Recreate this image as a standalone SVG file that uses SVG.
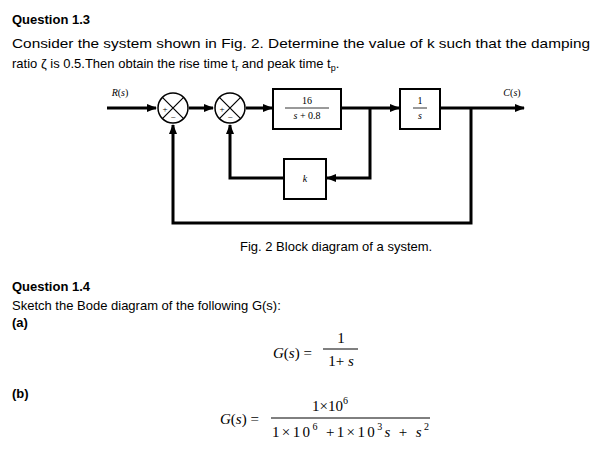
<svg xmlns="http://www.w3.org/2000/svg" width="601" height="455" viewBox="0 0 601 455">
<style>
.t{font-family:"Liberation Sans",Arial,sans-serif;font-size:13px;fill:#000}
.b{font-weight:bold}
.m{font-family:"Liberation Serif","Times New Roman",serif;fill:#000}
.i{font-style:italic}
.ln{stroke:#000;stroke-width:3;fill:none}
.bx{stroke:#000;stroke-width:2;fill:#fff}
</style>
<defs><marker id="a" markerWidth="10" markerHeight="8" refX="9" refY="4" orient="auto" markerUnits="userSpaceOnUse"><path d="M0,0L10,4L0,8z" fill="#000"/></marker></defs>
<rect width="601" height="455" fill="#fff"/>
<text class="t b" x="12" y="24">Question 1.3</text>
<text class="t" x="12" y="48" textLength="578" lengthAdjust="spacingAndGlyphs">Consider the system shown in Fig. 2. Determine the value of k such that the damping</text>
<text class="t" x="12" y="68">ratio ζ is 0.5.Then obtain the rise time t<tspan font-size="9" dy="3">r</tspan><tspan dy="-3"> and peak time t</tspan><tspan font-size="9" dy="3">p</tspan><tspan dy="-3">.</tspan></text>
<g id="connectors">
<line class="ln" x1="107" y1="108" x2="156" y2="108" marker-end="url(#a)"/>
<line class="ln" x1="189" y1="108" x2="213" y2="108" marker-end="url(#a)"/>
<line class="ln" x1="246" y1="108" x2="272" y2="108" marker-end="url(#a)"/>
<line class="ln" x1="341" y1="108" x2="399" y2="108" marker-end="url(#a)"/>
<line class="ln" x1="440" y1="108" x2="524" y2="108" marker-end="url(#a)"/>
<polyline class="ln" points="370,108 370,178 327,178" marker-end="url(#a)"/>
<polyline class="ln" points="284,178 230,178 230,125" marker-end="url(#a)"/>
<polyline class="ln" points="471,108 471,223 173,223 173,125" marker-end="url(#a)"/>
</g>
<g id="sum1"><circle cx="173" cy="108" r="15" fill="#fff" stroke="#000" stroke-width="1.5"/><path d="M162.4,97.4L183.6,118.6M183.6,97.4L162.4,118.6" stroke="#000" stroke-width="1.2"/><text class="m" x="165" y="112" font-size="9" text-anchor="middle">+</text><text class="m" x="173" y="120" font-size="9" text-anchor="middle">−</text></g>
<g id="sum2"><circle cx="230" cy="108" r="15" fill="#fff" stroke="#000" stroke-width="1.5"/><path d="M219.4,97.4L240.6,118.6M240.6,97.4L219.4,118.6" stroke="#000" stroke-width="1.2"/><text class="m" x="222" y="112" font-size="9" text-anchor="middle">+</text><text class="m" x="230" y="120" font-size="9" text-anchor="middle">−</text></g>
<g id="g1"><rect class="bx" x="273" y="89" width="68" height="40"/><text class="m" x="307" y="104" font-size="10" text-anchor="middle">16</text><line x1="285" y1="108" x2="329" y2="108" stroke="#000" stroke-width="0.8"/><text class="m" x="307" y="119" font-size="10" text-anchor="middle"><tspan font-style="italic">s</tspan> + 0.8</text></g>
<g id="g2"><rect class="bx" x="400" y="89" width="40" height="40"/><text class="m" x="420" y="104" font-size="10" text-anchor="middle">1</text><line x1="413" y1="108" x2="427" y2="108" stroke="#000" stroke-width="0.8"/><text class="m i" x="420" y="119" font-size="10" text-anchor="middle">s</text></g>
<g id="k"><rect class="bx" x="284" y="159" width="42" height="40"/><text class="m i" x="305" y="182" font-size="10" text-anchor="middle">k</text></g>
<text class="m" x="120" y="96" font-size="10" text-anchor="middle"><tspan font-style="italic">R</tspan>(<tspan font-style="italic">s</tspan>)</text>
<text class="m" x="512" y="96" font-size="10" text-anchor="middle"><tspan font-style="italic">C</tspan>(<tspan font-style="italic">s</tspan>)</text>
<text class="t" x="240" y="251">Fig. 2 Block diagram of a system.</text>
<text class="t b" x="12" y="291">Question 1.4</text>
<text class="t" x="12" y="310">Sketch the Bode diagram of the following G(s):</text>
<text class="t b" x="12" y="327" font-size="11">(a)</text>
<g class="m" font-size="15">
<text x="273" y="358"><tspan font-style="italic">G</tspan>(<tspan font-style="italic">s</tspan>) =</text>
<text x="341" y="343" text-anchor="middle">1</text>
<line x1="323" y1="349" x2="358" y2="349" stroke="#000" stroke-width="1"/>
<text x="341" y="366" text-anchor="middle">1+ <tspan font-style="italic">s</tspan></text>
<text x="220" y="424"><tspan font-style="italic">G</tspan>(<tspan font-style="italic">s</tspan>) =</text>
<text x="330" y="411" text-anchor="middle">1×10<tspan font-size="10" dy="-7">6</tspan></text>
<line x1="271" y1="418" x2="430" y2="418" stroke="#000" stroke-width="1"/>
<text x="272" y="437" textLength="157">1×10<tspan font-size="10" dy="-7">6</tspan><tspan dy="7"> +1×10</tspan><tspan font-size="10" dy="-7">3</tspan><tspan dy="7" font-style="italic">s</tspan><tspan> + </tspan><tspan font-style="italic">s</tspan><tspan font-size="10" dy="-7">2</tspan></text>
</g>
<text class="t b" x="12" y="398" font-size="11">(b)</text>
</svg>
